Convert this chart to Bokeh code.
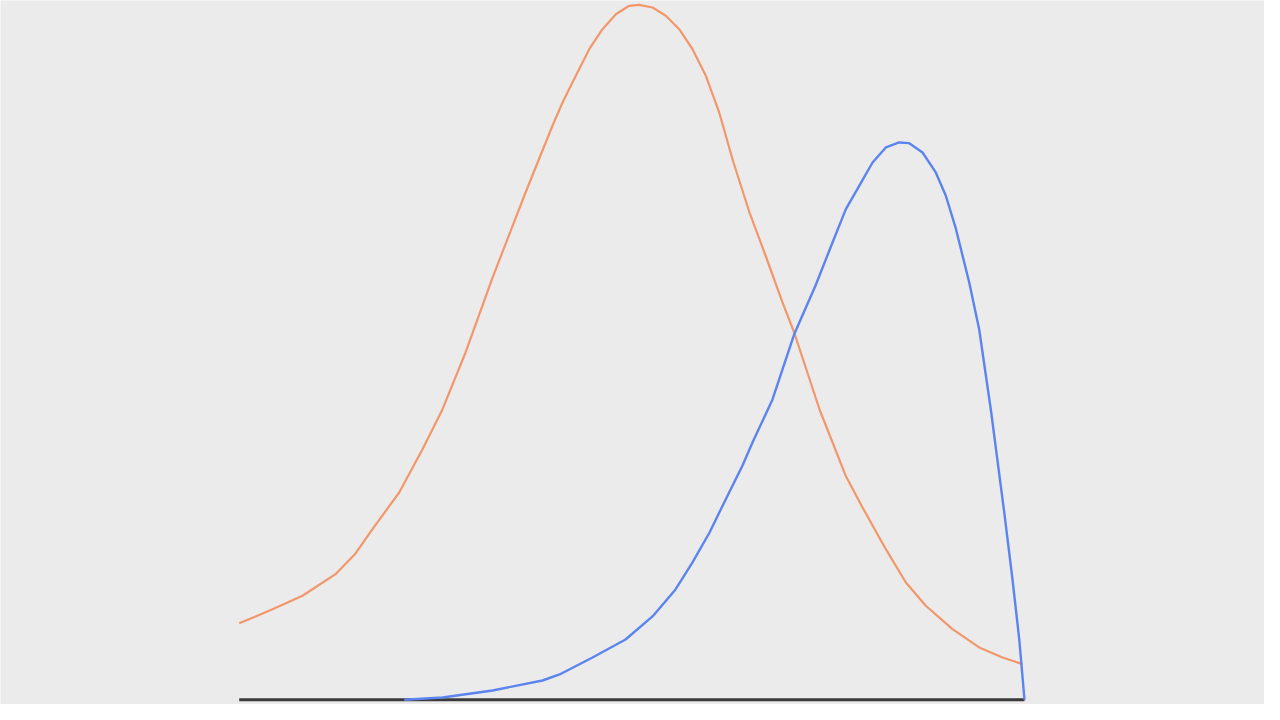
from bokeh.plotting import figure
from bokeh.models import Range1d
from bokeh.embed import file_html
from bokeh.resources import INLINE

# orange curve (bell shaped)
orange_x = [0.000, 0.208, 0.424, 0.806, 1.226, 1.481, 1.697, 2.037, 2.334, 2.589,
            2.882, 3.226, 3.646, 3.990, 4.117, 4.286, 4.457, 4.626, 4.796, 4.966,
            5.094, 5.263, 5.432, 5.603, 5.772, 5.942, 6.112, 6.294, 6.498, 6.702,
            6.918, 7.071, 7.390, 7.721, 7.937, 8.234, 8.489, 8.743, 9.083, 9.423,
            9.720, 9.975]
orange_y = [11.01, 11.98, 13.02, 14.95, 18.06, 21.03, 24.53, 29.80, 36.03, 41.78,
            49.93, 60.70, 72.93, 82.56, 85.87, 89.71, 93.53, 96.41, 98.56, 99.77,
            99.91, 99.53, 98.33, 96.41, 93.53, 89.71, 84.43, 77.24, 70.05, 63.87,
            57.12, 52.66, 41.73, 32.25, 27.65, 21.65, 16.86, 13.51, 10.15, 7.52,
            6.08, 5.12]

# blue curve (skewed to the right)
blue_x = [2.101, 2.589, 3.226, 3.862, 4.079, 4.499, 4.919, 5.263, 5.556, 5.772,
          5.989, 6.196, 6.409, 6.536, 6.791, 7.071, 7.339, 7.555, 7.725, 7.895,
          8.065, 8.234, 8.404, 8.532, 8.701, 8.870, 8.998, 9.125, 9.296, 9.423,
          9.571, 9.742, 9.847, 9.933, 10.000]
blue_y = [0.00, 0.33, 1.34, 2.77, 3.64, 6.08, 8.67, 11.98, 15.86, 19.74,
          24.05, 28.84, 33.68, 36.99, 43.17, 52.66, 59.56, 65.74, 70.53, 73.89,
          77.24, 79.40, 80.12, 80.02, 78.68, 75.81, 72.46, 67.76, 59.99, 53.23,
          41.73, 26.93, 17.29, 8.67, 0.00]

# baseline
base_x = [0.0, 10.0]
base_y = [0.0, 0.0]

p = figure(width=1264, height=704, output_backend="svg", toolbar_location=None,
           x_range=Range1d(-3.04, 13.056), y_range=Range1d(-0.68, 100.53),
           min_border=0)
p.axis.visible = False
p.grid.visible = False
p.outline_line_color = None
p.background_fill_color = "#ebebeb"
p.border_fill_color = "#ebebeb"

p.line(base_x, base_y, line_color="#3a3a3a", line_width=3)
p.line(orange_x, orange_y, line_color="#f2976b", line_width=2.2, line_join="round")
p.line(blue_x, blue_y, line_color="#5b84ef", line_width=2.4, line_join="round")

open("out.html", "w").write(file_html(p, INLINE))
